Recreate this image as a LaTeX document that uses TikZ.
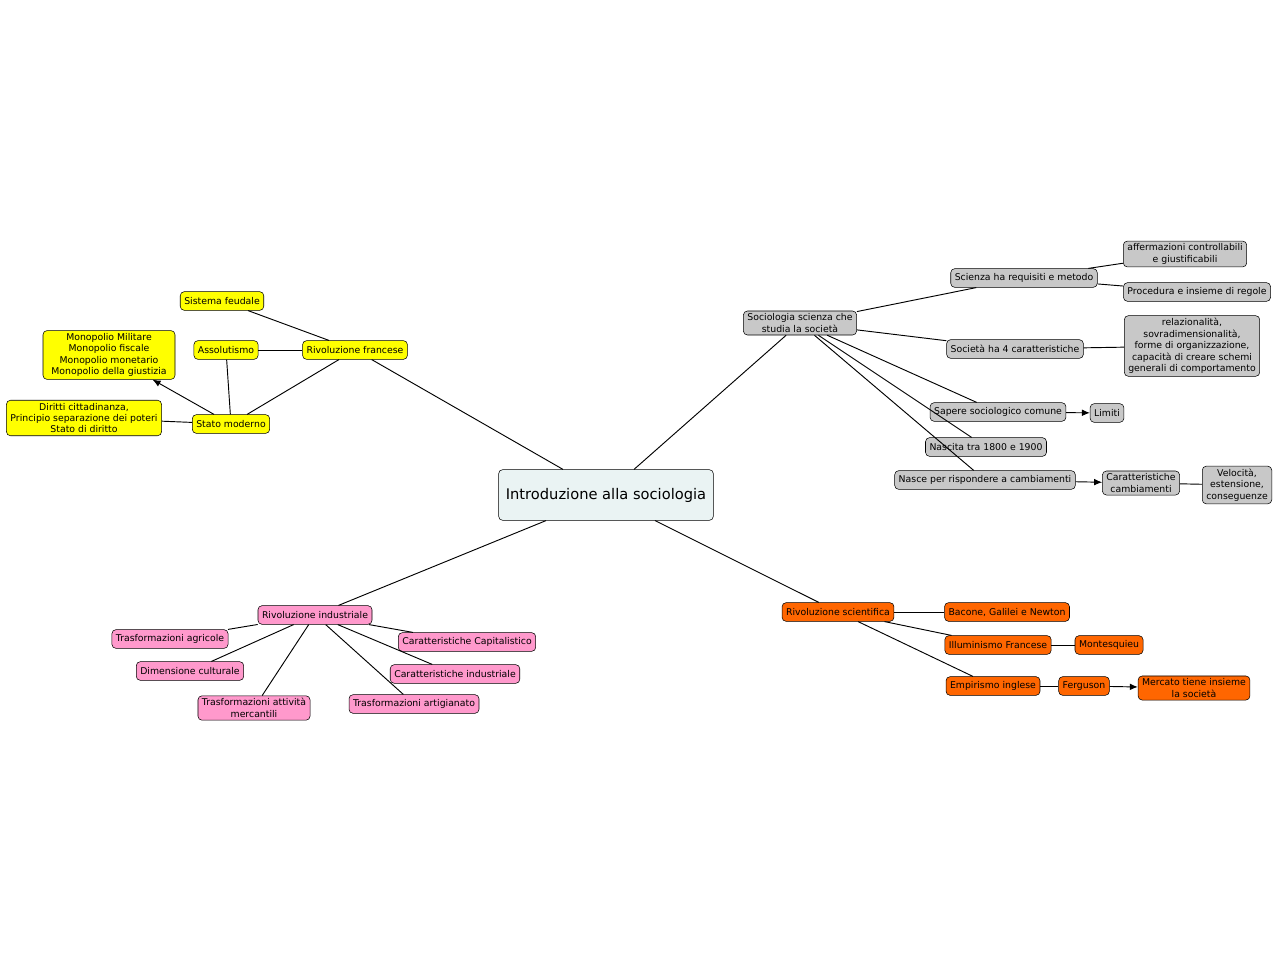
\documentclass[tikz,border=0pt]{standalone}
\usepackage{fontspec}
\setmainfont{DejaVu Sans}
\usetikzlibrary{arrows.meta}
\definecolor{yel}{HTML}{FFFF00}
\definecolor{gry}{HTML}{C8C8C8}
\definecolor{pnk}{HTML}{FF99CC}
\definecolor{org}{HTML}{FF6600}
\definecolor{mainc}{HTML}{EAF3F3}
\begin{document}
\begin{tikzpicture}[x=0.75pt,y=-0.75pt,
  box/.style={draw=black,rounded corners=3pt,align=center,inner xsep=3pt,inner ysep=2pt,minimum height=14pt,font=\fontsize{7}{8.6}\selectfont},
  yb/.style={box,fill=yel},gb/.style={box,fill=gry},pb/.style={box,fill=pnk},ob/.style={box,fill=org},
  ln/.style={draw=black,line width=0.7pt},
  ar/.style={ln,-{Latex[length=6pt,width=5pt]}}]
\useasboundingbox (0,0) rectangle (1280,963);
\node[box,fill=mainc,font=\fontsize{11}{13}\selectfont,minimum width=161pt,minimum height=38pt] (m) at (606,495) {Introduzione alla sociologia};
% yellow
\node[yb] (sf) at (222,301) {Sistema feudale};
\node[yb] (rf) at (355,350) {Rivoluzione francese};
\node[yb] (as) at (226,350) {Assolutismo};
\node[yb,minimum width=99pt] (mo) at (109,355) {Monopolio Militare\\Monopolio fiscale\\Monopolio monetario\\Monopolio della giustizia};
\node[yb] (di) at (84,418) {Diritti cittadinanza,\\Principio separazione dei poteri\\Stato di diritto};
\node[yb] (sm) at (231,424) {Stato moderno};
\draw[ln] (m.north) ++(-43,0) coordinate (m1) -- (rf);
\draw[ln] (sf) -- (rf); \draw[ln] (as) -- (rf); \draw[ln] (rf) -- (sm);
\draw[ln] (as) -- (sm); \draw[ar] (sm) -- (mo); \draw[ln] (sm) -- (di);
% gray
\node[gb] (so) at (800,323) {Sociologia scienza che\\studia la società};
\node[gb] (sr) at (1024,278) {Scienza ha requisiti e metodo};
\node[gb] (af) at (1185,254) {affermazioni controllabili\\e giustificabili};
\node[gb] (pr) at (1197,292) {Procedura e insieme di regole};
\node[gb] (s4) at (1015,349) {Società ha 4 caratteristiche};
\node[gb] (re) at (1192,346) {relazionalità,\\sovradimensionalità,\\forme di organizzazione,\\capacità di creare schemi\\generali di comportamento};
\node[gb] (sa) at (998,412) {Sapere sociologico comune};
\node[gb] (li) at (1107,413) {Limiti};
\node[gb] (na) at (986,447) {Nascita tra 1800 e 1900};
\node[gb] (nr) at (985,480) {Nasce per rispondere a cambiamenti};
\node[gb] (cc) at (1141,483) {Caratteristiche\\cambiamenti};
\node[gb] (ve) at (1237,485) {Velocità,\\estensione,\\conseguenze};
\draw[ln] (m.north) ++(28,0) coordinate (m2) -- (so);
\draw[ln] (so) -- (sr); \draw[ln] (sr) -- (af); \draw[ln] (sr) -- (pr);
\draw[ln] (so) -- (s4); \draw[ln] (s4) -- (re); \draw[ln] (so) -- (sa);
\draw[ar] (sa) -- (li); \draw[ln] (so) -- (na); \draw[ln] (so) -- (nr);
\draw[ar] (nr) -- (cc); \draw[ln] (cc) -- (ve);
% pink
\node[pb] (ri) at (315,615) {Rivoluzione industriale};
\node[pb] (ta) at (170,639) {Trasformazioni agricole};
\node[pb] (dc) at (190,671) {Dimensione culturale};
\node[pb] (tm) at (254,708) {Trasformazioni attività\\mercantili};
\node[pb] (tr) at (414,704) {Trasformazioni artigianato};
\node[pb] (ci) at (455,674) {Caratteristiche industriale};
\node[pb] (cp) at (467,642) {Caratteristiche Capitalistico};
\draw[ln] (m.south) ++(-60,0) coordinate (m3) -- (ri);
\foreach \t in {ta,dc,tm,tr,ci,cp} \draw[ln] (ri) -- (\t);
% orange
\node[ob] (rs) at (838,612) {Rivoluzione scientifica};
\node[ob] (bg) at (1007,612) {Bacone, Galilei e Newton};
\node[ob] (il) at (998,645) {Illuminismo Francese};
\node[ob] (mq) at (1109,645) {Montesquieu};
\node[ob] (ei) at (993,686) {Empirismo inglese};
\node[ob] (fe) at (1084,686) {Ferguson};
\node[ob] (me) at (1194,688) {Mercato tiene insieme\\la società};
\draw[ln] (m.south) ++(49,0) coordinate (m4) -- (rs);
\draw[ln] (rs) -- (bg); \draw[ln] (rs) -- (il); \draw[ln] (il) -- (mq);
\draw[ln] (rs) -- (ei); \draw[ln] (ei) -- (fe); \draw[ar] (fe) -- (me);
\end{tikzpicture}
\end{document}
